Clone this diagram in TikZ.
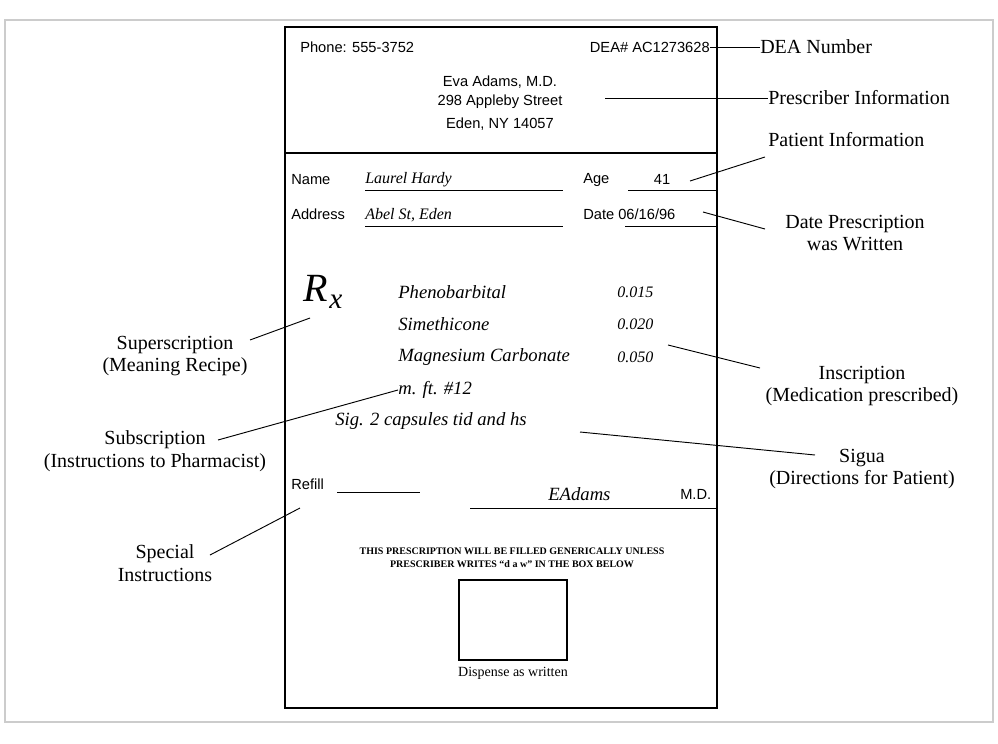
\documentclass[tikz,border=0pt]{standalone}
\usepackage{fontspec}
\setmainfont{Liberation Serif}
\newfontfamily\formfont{Liberation Sans}
\tikzset{
 lab/.style={font=\fontsize{15}{17}\selectfont, inner sep=0pt, align=center},
 frm/.style={font=\formfont\fontsize{11}{13}\selectfont, inner sep=0pt},
 hand/.style={font=\itshape\fontsize{14}{15}\selectfont, inner sep=0pt, anchor=west},
 num/.style={font=\itshape\fontsize{12}{13}\selectfont, inner sep=0pt, anchor=west},
 lead/.style={line width=0.7pt},
 uline/.style={line width=0.7pt}
}
\begin{document}
\begin{tikzpicture}[x=0.75pt,y=-0.75pt]
\useasboundingbox (0,0) rectangle (998,743);
\draw[gray!40, line width=0.8pt] (5,20) rectangle (993,722);
\draw[line width=2pt] (285,27) rectangle (717,708);
\draw[line width=1.5pt] (285,153) -- (717,153);
% header
\node[frm,anchor=west] (phone) at (300,47) {Phone: 555-3752};
\node[frm,anchor=east] (dea) at (710,47) {DEA\# AC1273628};
\node[lab,anchor=west] (deal) at (760,47) {DEA Number};
\draw[lead] (dea.east) -- (deal.west);
\node[frm] (n1) at (500,82) {Eva Adams, M.D.};
\node[frm] (n2) at (500,102) {298 Appleby Street};
\node[frm] (n3) at (500,124) {Eden, NY 14057};
\node[lab,anchor=west] (presl) at (768,98) {Prescriber Information};
\coordinate (pa) at (605,98);
\draw[lead] (pa) -- (presl.west);
% patient
\node[lab,anchor=west] (patl) at (768,140) {Patient Information};
\node[frm,anchor=west] (name) at (291,180) {Name};
\node[hand,font=\itshape\fontsize{12}{14}\selectfont] (nm) at (365,180) {Laurel Hardy};
\draw[uline] (365,190) -- (563,190);
\node[frm,anchor=west] (age) at (583,180) {Age};
\node[frm] (agev) at (662,179) {41};
\draw[uline] (628,190) -- (717,190);
\coordinate (pb) at (690,181);
\draw[lead] (pb) -- (765,157);
\node[frm,anchor=west] (addr) at (291,214) {Address};
\node[hand,font=\itshape\fontsize{12}{14}\selectfont] (ad) at (365,215) {Abel St, Eden};
\draw[uline] (365,226) -- (563,226);
\node[frm,anchor=west] (date) at (583,214) {Date 06/16/96};
\draw[uline] (625,226) -- (717,226);
\node[lab] (datel) at (855,233) {Date Prescription\\was Written};
\coordinate (pc) at (703,212);
\draw[lead] (pc) -- (765,229);
% Rx
\node[font=\itshape\fontsize{30}{30}\selectfont, inner sep=0pt] (rx) at (316,288) {R};
\node[font=\itshape\fontsize{22}{22}\selectfont, inner sep=0pt] (rxx) at (336,302) {x};
\node[lab] (supl) at (175,356) {Superscription\\(Meaning Recipe)};
\draw[lead] (250,340) -- (310,318);
% meds
\node[hand] (m1) at (398,292) {Phenobarbital};
\node[num] (v1) at (617,292) {0.015};
\node[hand] (m2) at (398,324) {Simethicone};
\node[num] (v2) at (617,324) {0.020};
\node[hand] (m3) at (398,357) {Magnesium Carbonate};
\node[num] (v3) at (617,357) {0.050};
\node[hand] (m4) at (398,390) {m. ft. \#12};
\node[hand] (m5) at (335,421) {Sig. 2 capsules tid and hs};
\node[lab] (insl) at (862,386) {Inscription\\(Medication prescribed)};
\draw[lead] (668,345) -- (760,368);
\node[lab] (subl) at (155,451) {Subscription\\(Instructions to Pharmacist)};
\draw[lead] (218,440) -- (m4.west);
\node[lab] (sigl) at (862,469) {Sigua\\(Directions for Patient)};
\draw[lead] (580,432) -- (815,455);
% refill
\node[frm,anchor=west] (refill) at (291,484) {Refill};
\draw[uline] (337,492) -- (420,492);
\node[hand] (sig) at (548,494) {EAdams};
\node[frm,anchor=west] (md) at (680,494) {M.D.};
\draw[uline] (470,508) -- (717,508);
\node[lab] (spl) at (165,563) {Special\\Instructions};
\draw[lead] (210,555) -- (300,508);
% disclaimer
\node[font=\fontsize{7.5}{10}\selectfont\bfseries, inner sep=0pt, align=center] (disc) at (512,558) {THIS PRESCRIPTION WILL BE FILLED GENERICALLY UNLESS\\PRESCRIBER WRITES ``d a w'' IN THE BOX BELOW};
\node[draw, line width=0.8pt, minimum width=81pt, minimum height=60pt, inner sep=0pt] (box) at (513,620) {};
\node[font=\fontsize{10.5}{12}\selectfont, inner sep=0pt] (dis) at (513,673) {Dispense as written};
\end{tikzpicture}
\end{document}
